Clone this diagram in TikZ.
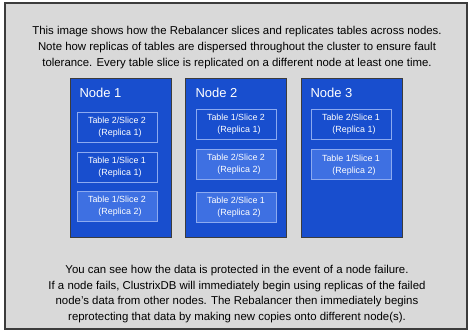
\documentclass[tikz,border=0pt]{standalone}
\usepackage{fontspec}
\setmainfont{Liberation Sans}
\usepackage{xcolor}
\usepackage{tikz}
\usetikzlibrary{positioning}
\definecolor{panelgray}{RGB}{217, 217, 217}
\definecolor{framegray}{RGB}{60, 60, 60}
\definecolor{nodeblue}{RGB}{24, 78, 206}
\definecolor{replicablue}{RGB}{62, 112, 226}
\definecolor{edgeblue}{RGB}{140, 170, 240}

\begin{document}
\begin{tikzpicture}[
    x=1pt, y=-1pt,
    node distance=9pt,
    note/.style={align=center, font=\fontsize{11.4}{15.8}\selectfont, text=black},
    cluster/.style={rectangle, draw=framegray, fill=nodeblue, line width=0.6pt, minimum width=101pt, minimum height=159pt, inner sep=0pt},
    title/.style={font=\fontsize{13}{14}\selectfont, text=white, anchor=base west},
    slice/.style={rectangle, draw=edgeblue, fill=nodeblue, line width=0.8pt, minimum width=80pt, minimum height=30pt, align=center, inner sep=1pt, text=white, font=\fontsize{8.9}{12}\selectfont},
    replica/.style={slice, fill=replicablue}
]
    \useasboundingbox (0,0) rectangle (474,335);
    \draw[framegray, fill=panelgray, line width=1.2pt] (5,3) rectangle (467,329);

    \node[note] (intro) at (237,47.5) {This image shows how the Rebalancer slices and replicates tables across nodes.\\
        Note how replicas of tables are dispersed throughout the cluster to ensure fault\\
        tolerance. Every table slice is replicated on a different node at least one time.};

    % cluster nodes
    \node[cluster] (node1) at (120.5,157.5) {};
    \node[cluster] (node2) at (236,157.5) {};
    \node[cluster] (node3) at (351.5,157.5) {};
    \node[title] (label1) at (76,97) {Node 1};
    \node[title] (label2) at (192,97) {Node 2};
    \node[title] (label3) at (307,97) {Node 3};

    % slices on node 1
    \node[slice] (n1a) at (117,127.5) {Table 2/Slice 2\\ \hspace{6pt}(Replica 1)};
    \node[slice, below=of n1a] (n1b) {Table 1/Slice 1\\ \hspace{6pt}(Replica 1)};
    \node[replica, below=8pt of n1b] (n1c) {Table 1/Slice 2\\ \hspace{6pt}(Replica 2)};

    % slices on node 2
    \node[slice] (n2a) at (236,124.5) {Table 1/Slice 2\\ \hspace{6pt}(Replica 1)};
    \node[replica, below=of n2a] (n2b) {Table  2/Slice 2\\ \hspace{6pt}(Replica 2)};
    \node[replica, below=12pt of n2b] (n2c) {Table 2/Slice 1\\ \hspace{6pt}(Replica 2)};

    % slices on node 3
    \node[slice] (n3a) at (351,124) {Table 2/Slice 1\\ \hspace{6pt}(Replica 1)};
    \node[replica, below=10pt of n3a] (n3b) {Table 1/Slice 1\\ \hspace{6pt}(Replica 2)};

    \node[note] (outro) at (237,294) {You can see how the data is protected in the event of a node failure.\\
        If a node fails, ClustrixDB will immediately begin using replicas of the failed\\
        node's data from other nodes. The Rebalancer then immediately begins\\
        reprotecting that data by making new copies onto different node(s).};
\end{tikzpicture}
\end{document}
